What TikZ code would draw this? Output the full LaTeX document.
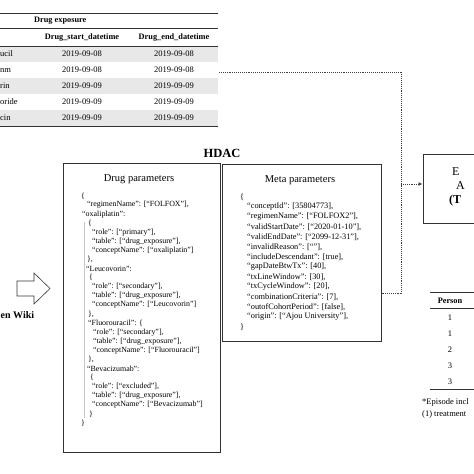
\documentclass[tikz,border=0pt]{standalone}
\usepackage{fontspec}
\setmainfont{Liberation Serif}
\usetikzlibrary{arrows.meta,shadows,calc}
\definecolor{rowgray}{HTML}{E8E8E8}
\definecolor{boxline}{HTML}{333333}
\tikzset{
  panel/.style={draw=boxline,line width=1pt,fill=white,drop shadow={shadow xshift=1.2pt,shadow yshift=-1.2pt,opacity=0.45},inner sep=0pt},
  code/.style={anchor=west,font=\fontsize{7.9}{9}\selectfont,inner sep=0pt},
  mcode/.style={anchor=west,font=\fontsize{8.3}{10}\selectfont,inner sep=0pt},
  cell/.style={font=\fontsize{8.5}{10}\selectfont,inner sep=0pt},
  hcell/.style={font=\fontsize{8.3}{10}\selectfont\bfseries,inner sep=0pt},
  title/.style={font=\fontsize{10.5}{12}\selectfont,inner sep=0pt},
  rule/.style={line width=0.5pt,draw=black!80},
  thickrule/.style={line width=1pt,draw=black!80},
  link/.style={densely dotted,line width=0.9pt,draw=black!75}
}
\begin{document}
\begin{tikzpicture}[x=1pt,y=-1pt]
\useasboundingbox (0,0) rectangle (474,474);
\clip (0,0) rectangle (474,474);
% ---------- top table ----------
\fill[rowgray] (0,46) rectangle (218,62);
\fill[rowgray] (0,78) rectangle (218,94);
\fill[rowgray] (0,110) rectangle (218,126);
\draw[thickrule] (0,13) -- (218,13);
\draw[rule] (0,28.5) -- (218,28.5);
\draw[rule] (0,46) -- (218,46);
\draw[thickrule] (0,126) -- (218,126);
\node[hcell,anchor=west] (dexp) at (34,21) {Drug exposure};
\node[hcell] (hstart) at (82,38) {Drug\_start\_datetime};
\node[hcell] (hend) at (174,38) {Drug\_end\_datetime};
\foreach \nm/\s/\e [count=\i] in {ucil/2019-09-08/2019-09-08, nm/2019-09-08/2019-09-08, rin/2019-09-09/2019-09-09, oride/2019-09-09/2019-09-09, cin/2019-09-09/2019-09-09}{
  \node[cell,anchor=west] (rn\i) at (0,38+16*\i) {\nm};
  \node[cell] (rs\i) at (82,38+16*\i) {\s};
  \node[cell] (re\i) at (174,38+16*\i) {\e};
}
% ---------- HDAC ----------
\node[font=\fontsize{12.5}{14}\selectfont\bfseries,inner sep=0pt] (hdac) at (222,153) {HDAC};
\node[panel,minimum width=157pt,minimum height=289pt] (drug) at (141.5,307.5) {};
\node[panel,minimum width=159pt,minimum height=177pt] (meta) at (301.5,252.5) {};
\node[title] (dtitle) at (139,179) {Drug parameters};
\node[title] (mtitle) at (300,180) {Meta parameters};
\draw[black!22,line width=0.4pt] (84,222) -- (84,418);
\foreach \x/\t [count=\i from 0] in {
 81/{\{},
 87/{“regimenName”: [“FOLFOX”],},
 82/{“oxaliplatin”:},
 88/{\{},
 92/{“role”: [“primary”],},
 92/{“table”: [“drug\_exposure”],},
 92/{“conceptName”: [“oxaliplatin”]},
 87/{\},},
 86/{“Leucovorin”:},
 89/{\{},
 92/{“role”: [“secondary”],},
 92/{“table”: [“drug\_exposure”],},
 92/{“conceptName”: [“Leucovorin”]},
 88/{\},},
 88/{“Fluorouracil”: \{},
 93/{“role”: [“secondary”],},
 93/{“table”: [“drug\_exposure”],},
 93/{“conceptName”: [“Fluorouracil”]},
 88/{\},},
 87/{“Bevacizumab”:},
 90/{\{},
 92/{“role”: [“excluded”],},
 92/{“table”: [“drug\_exposure”],},
 92/{“conceptName”: [“Bevacizumab”]},
 89/{\}},
 81/{\}}}{
  \node[code] (d\i) at (\x,196+9.08*\i) {\t};
}
\foreach \x/\t [count=\i from 0] in {
 240/{\{},
 247/{“conceptId”: [35804773],},
 247/{“regimenName”: [“FOLFOX2”],},
 247/{“validStartDate”: [“2020-01-10”],},
 247/{“validEndDate”: [“2099-12-31”],},
 247/{“invalidReason”: [“”],},
 247/{“includeDescendant”: [true],},
 247/{“gapDateBtwTx”: [40],},
 247/{“txLineWindow”: [30],},
 247/{“txCycleWindow”: [20],},
 247/{“combinationCriteria”: [7],},
 247/{“outofCohortPeriod”: [false],},
 247/{“origin”: [“Ajou University”],},
 240/{\}}}{
  \node[mcode] (m\i) at (\x,197+10*\i) {\t};
}
% ---------- left arrow ----------
\draw[boxline,line width=0.6pt,fill=white] (17,281) -- (34,281) -- (34,273) -- (50,288.5) -- (34,304) -- (34,296) -- (17,296) -- cycle;
\node[font=\fontsize{10}{12}\selectfont\bfseries,anchor=west,inner sep=0pt] (wiki) at (0.5,315) {en Wiki};
% ---------- right box ----------
\node[panel,minimum width=110pt,minimum height=69pt] (tea) at (478,188.5) {};
\node[font=\fontsize{12}{14}\selectfont,anchor=west,inner sep=0pt] (t1) at (452,172) {E};
\node[font=\fontsize{12}{14}\selectfont,anchor=west,inner sep=0pt] (t2) at (456,186) {A};
\node[font=\fontsize{12}{14}\selectfont\bfseries,anchor=west,inner sep=0pt] (t3) at (449,201) {(T};
% ---------- connectors ----------
\coordinate (tabR) at (219,72);
\coordinate (j1) at (401,72);
\coordinate (j2) at (401,293);
\draw[link] (tabR) -- (j1) -- (j2) -- (meta.east |- j2);
\draw[link,-{Latex[length=4pt,width=4pt]}] (j1 |- {$(tea.west)+(0,-4.5)$}) -- ($(tea.west)+(0,-4.5)$);
% ---------- bottom right table ----------
\draw[rule,line width=0.8pt] (430,292) -- (474,292);
\draw[rule] (430,308) -- (474,308);
\draw[rule,line width=0.8pt] (430,389) -- (474,389);
\node[hcell] (person) at (450,301) {Person};
\foreach \v [count=\i] in {1,1,2,3,3}{
  \node[cell] (p\i) at (450,301+16.2*\i) {\v};
}
\node[cell,anchor=west] (fn1) at (422,402) {*Episode incl};
\node[cell,anchor=west] (fn2) at (422,414) {(1) treatment};
\end{tikzpicture}
\end{document}
